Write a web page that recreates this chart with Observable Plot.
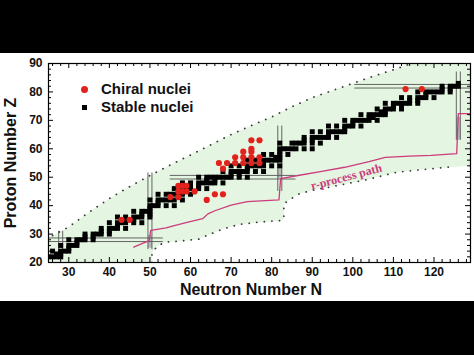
<!DOCTYPE html>
<html>
<head>
<meta charset="utf-8">
<script src="https://cdn.jsdelivr.net/npm/d3@7"></script>
<script src="https://cdn.jsdelivr.net/npm/@observablehq/plot@0.6"></script>
<style>
  html, body { margin: 0; padding: 0; background: #000; width: 474px; height: 355px; overflow: hidden; }
  #panel { position: absolute; left: 0; top: 53px; width: 474px; height: 248px; background: #fff; }
  #chart { position: absolute; left: 0; top: 0; }
  .t { position: absolute; font-family: "Liberation Sans", Arial, sans-serif; font-weight: bold; color: #111; white-space: nowrap; }
  #xtitle { left: 251px; top: 229px; font-size: 16px; line-height: 16px; transform: translateX(-50%); }
  #ytitle { left: 11px; top: 110px; font-size: 16px; line-height: 16px; transform: translate(-50%, -50%) rotate(-90deg); }
  .leg { font-size: 15px; line-height: 16px; left: 101px; }
  #leg1 { top: 28px; }
  #leg2 { top: 46px; }
  .sym { position: absolute; }
  #sym1 { left: 80.5px; top: 32.8px; width: 7px; height: 7px; border-radius: 50%; background: #e3211d; }
  #sym2 { left: 81.5px; top: 52px; width: 5px; height: 5px; background: #000; }
</style>
</head>
<body>
<div id="panel">
  <div id="chart"></div>
  <div class="sym" id="sym1"></div><div class="t leg" id="leg1">Chiral nuclei</div>
  <div class="sym" id="sym2"></div><div class="t leg" id="leg2">Stable nuclei</div>
  <div class="t" id="xtitle">Neutron Number N</div>
  <div class="t" id="ytitle">Proton Number Z</div>
</div>
<script>
// ---- Axis ticks ----
const xTicks = [30, 40, 50, 60, 70, 80, 90, 100, 110, 120];
const yTicks = [20, 30, 40, 50, 60, 70, 80, 90];

// ---- Stable nuclei: proton number Z and its stable neutron numbers N ----
const stableZ = [22, 23, 24, 25, 26, 27, 28, 29, 30, 31, 32, 33, 34, 35, 36, 37, 38, 39, 40, 41, 42,
  44, 45, 46, 47, 48, 49, 50, 51, 52, 53, 54, 55, 56, 57, 58, 59, 60, 62, 63, 64, 65, 66, 67, 68, 69,
  70, 71, 72, 73, 74, 75, 76, 77, 78, 79, 80, 81, 82, 83];
const stableN = [
  [25, 26, 27, 28], [27, 28], [26, 28, 29, 30], [30], [28, 30, 31, 32], [32], [30, 32, 33, 34, 36],
  [34, 36], [34, 36, 37, 38, 40], [38, 40], [38, 40, 41, 42, 44], [42], [40, 42, 43, 44, 46, 48],
  [44, 46], [42, 44, 46, 47, 48, 50], [48, 50], [46, 48, 49, 50], [50], [50, 51, 52, 54, 56], [52],
  [50, 52, 53, 54, 55, 56, 58],
  [52, 54, 55, 56, 57, 58, 60], [58], [56, 58, 59, 60, 62, 64], [60, 62], [58, 60, 62, 63, 64, 65, 66, 68],
  [64, 66], [62, 64, 65, 66, 67, 68, 69, 70, 72, 74], [70, 72], [68, 70, 71, 72, 73, 74, 76, 78], [74],
  [70, 72, 74, 75, 76, 77, 78, 80, 82], [78], [74, 76, 78, 79, 80, 81, 82], [81, 82], [78, 80, 82, 84],
  [82], [82, 83, 84, 85, 86, 88, 90], [82, 85, 86, 87, 88, 90, 92], [88, 90], [88, 90, 91, 92, 93, 94, 96],
  [94], [90, 92, 94, 95, 96, 97, 98], [98], [94, 96, 98, 99, 100, 102], [100],
  [98, 100, 101, 102, 103, 104, 106], [104, 105], [102, 104, 105, 106, 107, 108], [107, 108],
  [106, 108, 109, 110, 112], [110, 112], [108, 110, 111, 112, 113, 114, 116], [114, 116],
  [112, 114, 116, 117, 118, 120], [118], [116, 118, 119, 120, 121, 122, 124], [122, 124],
  [122, 124, 125, 126], [126]
];

// ---- Chiral nuclei (N, Z) ----
const chiralN = [43, 45, 55, 57, 57, 58, 59, 61, 57, 58, 59, 64, 66, 68,
  67, 69, 71, 73, 75, 77, 68, 71, 73, 75, 77, 73, 75, 75, 75, 77, 113, 117];
const chiralZ = [35, 35, 43, 43, 45, 45, 45, 45, 47, 47, 47, 42, 44, 44,
  55, 55, 55, 55, 55, 55, 53, 57, 57, 57, 57, 59, 59, 60, 63, 63, 81, 81];

// ---- Proton drip line (upper dotted) ----
const upperN = [26, 30, 35, 40, 45, 50, 55, 60, 65, 70, 75, 80, 85, 90, 95, 100, 105, 110, 115, 120];
const upperZ = [29.5, 32.5, 37.7, 42.5, 46.7, 50.6, 54.3, 57.8, 61.4, 65, 68.2, 71.2, 74.8, 78, 80.5, 83, 85.5, 87.8, 90.3, 92.6];

// ---- Neutron drip line (lower dotted) ----
const lowerN = [50.5, 50.5, 52, 54, 58, 62, 64, 68, 72, 77, 82.6, 83, 83, 86.5, 90, 95, 103, 111, 118, 124];
const lowerZ = [20, 23.5, 26, 27.2, 27.6, 28.2, 29.5, 31.8, 33.4, 34.2, 34.8, 35.5, 40.7, 44, 45.4, 46.7, 49, 51.8, 52.8, 53.6];

// ---- Corners closing the shaded band at the plot edges ----
const bandCornerN = [129, 129];
const bandCornerZ = [92, 54];
const bandStartN = [25, 25];
const bandStartZ = [20, 28.6];

// ---- r-process path ----
const rN = [46, 49.8, 50.2, 54, 56, 59.4, 63, 64.3, 66, 70, 74, 81.8, 82.2, 86.5, 92, 98, 104, 108, 114, 119.3, 125.6, 126, 129];
const rZ = [25.4, 27.7, 31.3, 32.2, 33, 34.2, 35.4, 37.1, 38.2, 40.2, 41.4, 42, 49.5, 50.6, 52, 53.5, 55.5, 57, 57.4, 57.7, 58.3, 72.4, 72.4];
const rLabel = ["r-process path"];
const rLabelN = [98.4];
const rLabelZ = [50.1];

// ---- Magic numbers: shell-closure double lines ----
const magicVN = [28, 50, 82, 126];
const magicVZ1 = [21, 24.5, 45, 63];
const magicVZ2 = [31, 51.5, 68, 87];
const magicHZ = [28, 50, 82];
const magicHN1 = [25, 55, 100.5];
const magicHN2 = [53.3, 86, 129];
// waiting-point bars
const waitN = [50, 82, 126];
const waitZ1 = [25, 49.5, 63];
const waitZ2 = [29.5, 54.5, 71];

// ---- Build tables ----
const stable = stableZ.flatMap((z, i) => stableN[i].map(n => ({n, z})));
const chiral = chiralN.map((n, i) => ({n, z: chiralZ[i]}));
const upper = upperN.map((n, i) => ({n, z: upperZ[i]}));
const lower = lowerN.map((n, i) => ({n, z: lowerZ[i]}));
const band = [
  ...upper,
  ...bandCornerN.map((n, i) => ({n, z: bandCornerZ[i]})),
  ...lower.slice().reverse(),
  ...bandStartN.map((n, i) => ({n, z: bandStartZ[i]}))
];
const rpath = rN.map((n, i) => ({n, z: rZ[i]}));
const rlab = rLabel.map((t, i) => ({t, n: rLabelN[i], z: rLabelZ[i]}));
const magicV = magicVN.map((n, i) => ({n, z1: magicVZ1[i], z2: magicVZ2[i]}));
const magicH = magicHZ.map((z, i) => ({z, n1: magicHN1[i], n2: magicHN2[i]}));
const wait = waitN.map((n, i) => ({n, z1: waitZ1[i], z2: waitZ2[i]}));

const minorX = d3.range(26, 129, 2).filter(v => v % 10 !== 0);
const minorY = d3.range(22, 90, 2).filter(v => v % 10 !== 0);

const W = 474, H = 248, mL = 48, mR = 4, mT = 10, mB = 39;
const fw = W - mL - mR, fh = H - mT - mB;
const font = {fontSize: 12, fontWeight: "bold", fill: "#111"};

const chart = Plot.plot({
  width: W, height: H,
  marginLeft: mL, marginRight: mR, marginTop: mT, marginBottom: mB,
  style: {fontFamily: "'Liberation Sans', Arial, sans-serif", background: "transparent", overflow: "visible"},
  x: {domain: [25, 129], label: null},
  y: {domain: [20, 90], label: null},
  marks: [
    Plot.line(band, {x: "n", y: "z", fill: "#e4f6e1", stroke: "none", clip: true}),
    Plot.ruleX(wait, {x: "n", y1: "z1", y2: "z2", stroke: "#b8b8b8", strokeWidth: 4, clip: true}),
    Plot.ruleX(magicV, {x: "n", y1: "z1", y2: "z2", stroke: "#555", strokeWidth: 0.9, dx: -2, clip: true}),
    Plot.ruleX(magicV, {x: "n", y1: "z1", y2: "z2", stroke: "#555", strokeWidth: 0.9, dx: 2, clip: true}),
    Plot.ruleY(magicH, {y: "z", x1: "n1", x2: "n2", stroke: "#555", strokeWidth: 0.9, dy: -1.8, clip: true}),
    Plot.ruleY(magicH, {y: "z", x1: "n1", x2: "n2", stroke: "#555", strokeWidth: 0.9, dy: 1.8, clip: true}),
    Plot.line(upper, {x: "n", y: "z", stroke: "#3a3a3a", strokeWidth: 1.8, strokeDasharray: "0.1 7.5", strokeLinecap: "round", clip: true}),
    Plot.line(lower, {x: "n", y: "z", stroke: "#3a3a3a", strokeWidth: 1.8, strokeDasharray: "0.1 7.5", strokeLinecap: "round", clip: true}),
    Plot.line(rpath, {x: "n", y: "z", stroke: "#cc3b7d", strokeWidth: 1.3, clip: true}),
    Plot.text(rlab, {x: "n", y: "z", text: "t", rotate: -15, fill: "#cc3b7d", fontSize: 12, fontWeight: "bold", fontFamily: "'Liberation Serif', 'Times New Roman', serif"}),
    Plot.dot(stable, {x: "n", y: "z", symbol: "square", r: 2.8, fill: "#000", stroke: "none", clip: true}),
    Plot.dot(chiral, {x: "n", y: "z", r: 3.1, fill: "#e3211d", stroke: "none", clip: true}),
    // inward ticks on all four sides
    Plot.ruleX(xTicks, {insetTop: fh - 5, stroke: "#000"}),
    Plot.ruleX(xTicks, {insetBottom: fh - 5, stroke: "#000"}),
    Plot.ruleX(minorX, {insetTop: fh - 3, stroke: "#000"}),
    Plot.ruleX(minorX, {insetBottom: fh - 3, stroke: "#000"}),
    Plot.ruleY(yTicks, {insetRight: fw - 5, stroke: "#000"}),
    Plot.ruleY(yTicks, {insetLeft: fw - 5, stroke: "#000"}),
    Plot.ruleY(minorY, {insetRight: fw - 3, stroke: "#000"}),
    Plot.ruleY(minorY, {insetLeft: fw - 3, stroke: "#000"}),
    Plot.frame({stroke: "#000", strokeWidth: 1.2}),
    Plot.axisX(xTicks, {tickSize: 0, tickPadding: 5, label: null, ...font}),
    Plot.axisY(yTicks, {tickSize: 0, tickPadding: 6, label: null, ...font})
  ]
});
document.getElementById("chart").appendChild(chart);
</script>
</body>
</html>
